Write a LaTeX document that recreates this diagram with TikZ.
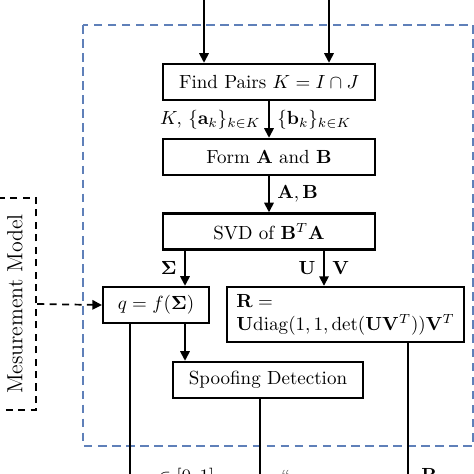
\documentclass[tikz,border=0pt]{standalone}
\usepackage{amsmath}
\usepackage{amssymb}
\usetikzlibrary{arrows.meta}
\definecolor{frameblue}{RGB}{95,128,185}

\begin{document}
\begin{tikzpicture}[x=0.0185cm, y=-0.0185cm,
		block/.style={draw, line width=1.2pt, minimum height=0.67cm, inner sep=2pt},
		arr/.style={-{Triangle[length=5pt,width=5pt]}, line width=0.9pt},
		wire/.style={line width=0.9pt},
		lbl/.style={inner sep=4pt}]
	\useasboundingbox (0,0) rectangle (474,474);

	% Frame
	\draw[frameblue, line width=0.9pt, dash pattern=on 0.16cm off 0.1cm] (83,25) rectangle (473,446);

	% Nodes
	\node[block, minimum width=3.92cm] (pairs) at (269,82) {Find Pairs $K = I \cap J$};
	\node[block, minimum width=3.92cm] (form) at (269,157) {Form $\mathbf{A}$ and $\mathbf{B}$};
	\node[block, minimum width=3.92cm] (svd) at (269,231.5) {SVD of $\mathbf{B}^T\mathbf{A}$};
	\node[block, minimum width=1.96cm] (q) at (156,305) {$q = f(\mathbf{\Sigma})$};
	\node[block, minimum width=4.38cm, minimum height=1.02cm, align=left] (rot) at (345.5,314.5)
		{$\mathbf{R} =$\\ $\mathbf{U}\mathrm{diag}(1,1,\det(\mathbf{U}\mathbf{V}^T))\mathbf{V}^T$};
	\node[block, minimum width=3.52cm] (spoof) at (268,380) {Spoofing Detection};
	\node[draw, line width=1.2pt, rotate=90, minimum width=3.92cm, minimum height=0.78cm,
		dash pattern=on 0.13cm off 0.1cm] (meas) at (15,304) {\fontsize{11.5}{13}\selectfont Mesurement Model};

	% Coordinates
	\coordinate (inI) at (204,-10);
	\coordinate (inJ) at (329,-10);
	\coordinate (sig) at (185,0);
	\coordinate (uv) at (324,0);
	\coordinate (outQ) at (130,490);
	\coordinate (outS) at (260,490);
	\coordinate (outR) at (408,490);

	% Arrows
	\draw[arr] (inI) -- (inI |- pairs.north);
	\draw[arr] (inJ) -- (inJ |- pairs.north);
	\draw[arr] (pairs) -- (form)
		node[lbl, midway, left] {$K,\,\{\mathbf{a}_k\}_{k\in K}$}
		node[lbl, midway, right] {$\{\mathbf{b}_k\}_{k\in K}$};
	\draw[arr] (form) -- (svd) node[lbl, midway, right] {$\mathbf{A},\mathbf{B}$};
	\draw[arr] (svd.south -| sig) -- (q.north -| sig) node[lbl, midway, left] {$\mathbf{\Sigma}$};
	\draw[arr] (svd.south -| uv) -- (rot.north -| uv)
		node[lbl, midway, left] {$\mathbf{U}$}
		node[lbl, midway, right] {$\mathbf{V}$};
	\draw[arr] (q.south -| sig) -- (spoof.north -| sig);
	\draw[arr, dash pattern=on 0.13cm off 0.1cm] (meas.south) -- (q.west);
	\draw[wire] (q.south -| outQ) -- (outQ);
	\draw[wire] (spoof.south -| outS) -- (outS);
	\draw[wire] (rot.south -| outR) -- (outR);

	% Outputs
	\node[anchor=base west, inner sep=0pt] (lq) at (158,482) {$\in [0,1]$};
	\node[anchor=base west, inner sep=0pt] (ls) at (281,483) {``};
	\node[anchor=base west, inner sep=0pt] (lr) at (421,481) {$\mathbf{R}$};
\end{tikzpicture}
\end{document}
